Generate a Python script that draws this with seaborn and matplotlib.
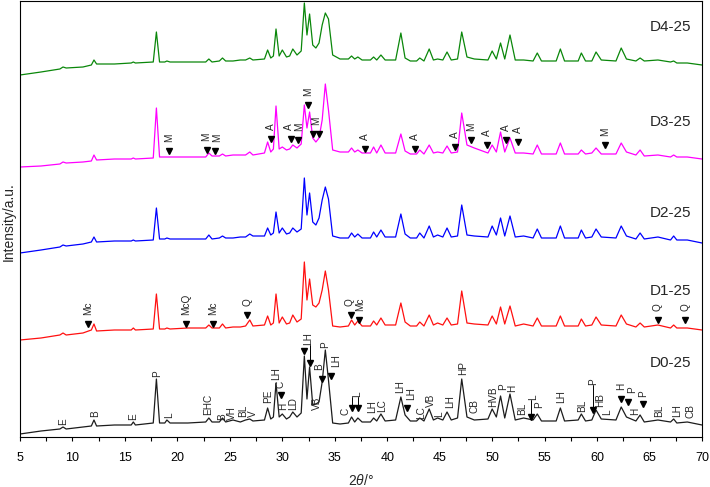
import numpy as np
import pandas as pd
import matplotlib
matplotlib.use("Agg")
import matplotlib.pyplot as plt
from matplotlib.ticker import MultipleLocator
import seaborn as sns

# ---------------- data ----------------
two_theta = [
    5.0, 7.0, 8.8, 9.1, 9.4, 11.0, 11.8, 12.05, 12.3, 14.0,
    15.6, 15.8, 16.0, 17.7, 18.0, 18.3, 18.8, 19.0, 19.3, 21.0,
    22.7, 23.0, 23.3, 24.0, 24.3, 24.6, 25.3, 26.0, 26.5, 26.9,
    27.2, 28.3, 28.6, 28.9, 29.15, 29.4, 29.7, 30.0, 30.4, 30.7,
    31.0, 31.4, 31.8, 32.1, 32.35, 32.6, 32.9, 33.2, 33.5, 33.8,
    34.1, 34.4, 34.8, 35.5, 36.3, 36.6, 36.9, 37.2, 37.6, 38.4,
    38.7, 39.0, 39.4, 39.8, 40.8, 41.3, 41.7, 42.2, 42.8, 43.1,
    43.5, 44.0, 44.4, 44.8, 45.3, 45.7, 46.1, 46.7, 47.1, 47.6,
    48.3, 49.6, 50.0, 50.4, 50.8, 51.2, 51.7, 52.2, 53.0, 53.9,
    54.3, 54.7, 56.1, 56.5, 56.9, 58.2, 58.5, 58.9, 59.5, 59.9,
    60.4, 61.8, 62.3, 62.8, 63.7, 64.1, 64.5, 65.8, 67.0, 67.3,
    67.6, 68.6, 70.0,
]

d0_25 = [
    3, 6, 8, 10, 8, 10, 11, 17, 11, 12,
    12, 15, 12, 14, 58, 14, 14, 17, 14, 14,
    15, 19, 15, 15, 19, 15, 17, 15, 17, 18,
    16, 17, 29, 18, 20, 54, 20, 23, 18, 20,
    25, 20, 24, 81, 38, 70, 32, 33, 35, 55,
    87, 57, 14, 13, 14, 20, 15, 19, 15, 15,
    19, 16, 23, 16, 17, 40, 22, 16, 16, 19,
    16, 28, 17, 19, 17, 25, 17, 19, 58, 20,
    17, 18, 28, 20, 41, 19, 43, 17, 19, 17,
    23, 16, 16, 29, 16, 17, 23, 16, 17, 27,
    18, 17, 30, 20, 16, 22, 15, 17, 15, 18,
    14, 15, 12,
]

d1_25 = [
    97, 99, 102, 104, 102, 104, 107, 113, 106, 107,
    107, 109, 107, 108, 143, 108, 108, 109, 108, 109,
    109, 112, 109, 109, 113, 109, 110, 110, 111, 117,
    111, 112, 121, 112, 114, 143, 114, 120, 113, 114,
    122, 115, 118, 175, 137, 158, 132, 130, 134, 147,
    166, 147, 111, 110, 111, 117, 112, 116, 111, 111,
    116, 112, 119, 112, 112, 134, 115, 111, 111, 115,
    111, 122, 112, 114, 112, 119, 112, 113, 146, 114,
    113, 112, 121, 113, 130, 113, 131, 111, 113, 111,
    119, 111, 111, 121, 111, 111, 118, 111, 112, 120,
    112, 111, 122, 113, 110, 114, 110, 112, 109, 112,
    109, 109, 107,
]

d2_25 = [
    184, 187, 190, 192, 191, 193, 195, 200, 195, 196,
    196, 197, 196, 197, 229, 198, 198, 199, 198, 198,
    198, 202, 198, 199, 201, 199, 199, 200, 200, 203,
    201, 201, 209, 202, 204, 225, 204, 209, 203, 204,
    209, 205, 208, 259, 222, 244, 215, 212, 219, 237,
    250, 238, 201, 199, 199, 204, 200, 203, 199, 199,
    205, 200, 207, 200, 200, 223, 203, 199, 199, 204,
    199, 211, 200, 202, 200, 209, 200, 201, 232, 202,
    201, 200, 211, 202, 219, 201, 221, 200, 201, 199,
    208, 199, 199, 211, 199, 199, 207, 199, 200, 208,
    200, 199, 211, 201, 198, 204, 198, 200, 197, 201,
    197, 197, 194,
]

d3_25 = [
    270, 271, 273, 275, 274, 275, 276, 282, 277, 278,
    278, 279, 278, 279, 329, 280, 280, 280, 280, 280,
    280, 284, 281, 281, 283, 281, 282, 282, 282, 285,
    282, 284, 295, 285, 288, 331, 288, 290, 287, 288,
    292, 289, 293, 332, 309, 325, 299, 295, 299, 317,
    353, 327, 287, 285, 285, 289, 285, 287, 284, 284,
    290, 284, 292, 284, 284, 303, 286, 283, 283, 287,
    283, 292, 284, 285, 284, 291, 284, 285, 324, 292,
    289, 284, 292, 285, 305, 285, 299, 284, 284, 283,
    292, 283, 283, 294, 283, 283, 287, 283, 284, 289,
    283, 283, 294, 285, 282, 287, 281, 282, 280, 282,
    280, 280, 278,
]

d4_25 = [
    362, 365, 368, 370, 369, 370, 372, 377, 373, 373,
    374, 375, 374, 375, 405, 375, 375, 376, 375, 375,
    375, 378, 375, 376, 379, 376, 376, 377, 377, 379,
    377, 378, 387, 379, 381, 408, 381, 387, 380, 381,
    388, 382, 386, 434, 402, 423, 392, 389, 394, 412,
    424, 418, 382, 378, 378, 381, 378, 380, 377, 377,
    380, 377, 382, 377, 377, 404, 379, 376, 376, 379,
    376, 388, 377, 378, 377, 385, 377, 378, 405, 380,
    378, 377, 386, 378, 394, 378, 402, 377, 377, 376,
    384, 376, 376, 388, 376, 376, 384, 376, 376, 385,
    377, 376, 389, 378, 376, 379, 376, 377, 375, 376,
    374, 374, 372,
]

samples = ["D0-25", "D1-25", "D2-25", "D3-25", "D4-25"]
sample_label_x = 67.0
sample_label_y = [74, 146, 224, 315, 410]

# D0-25 phase labels without arrows: (text, 2theta, bottom of text)
d0_labels = [
    ("E", 9.1, 12), ("B", 12.2, 20), ("E", 15.8, 17), ("P", 18.05, 60),
    ("L", 19.2, 19), ("EHC", 22.9, 22), ("B", 24.3, 17), ("VH", 25.2, 17),
    ("BL", 26.3, 20), ("V", 27.2, 20), ("PE", 28.65, 34), ("LH", 29.45, 57),
    ("H", 30.1, 27), ("LD", 31.0, 27), ("VB", 33.3, 27), ("P", 34.1, 89),
    ("C", 36.05, 22), ("LH", 38.6, 24), ("LC", 39.5, 25), ("LH", 41.2, 44),
    ("LC", 43.2, 18), ("VB", 44.2, 30), ("L", 44.9, 20), ("LH", 46.0, 29),
    ("HP", 47.2, 62), ("CB", 48.3, 24), ("HVB", 50.05, 30), ("P", 51.0, 47),
    ("H", 51.9, 45), ("BL", 52.9, 22), ("P", 54.5, 29), ("LH", 56.6, 34),
    ("BL", 58.6, 25), ("HB", 60.25, 30), ("L", 61.0, 22), ("H", 63.65, 22),
    ("BL", 65.95, 20), ("LH", 67.6, 20), ("CB", 68.9, 19),
]

# labels with arrows: (text, x of text, bottom of text, [(x tip, y tip, stem)])
d0_arrows = [
    ("C", 29.85, 49, [(29.85, 39, False)]),
    ("LH", 32.45, 92, [(32.1, 83, False), (32.6, 71, True)]),
    ("B", 33.5, 67, [(33.75, 55, False)]),
    ("LH", 35.1, 70, [(34.6, 58, False)]),
    ("L", 37.15, 40, [(36.65, 26, True), (37.2, 26, True)]),
    ("LH", 42.25, 37, [(41.9, 26, False)]),
    ("L", 53.9, 37, [(53.7, 17, True)]),
    ("P", 59.6, 52, [(59.6, 24, True)]),
    ("H", 62.3, 47, [(62.3, 35, False)]),
    ("P", 63.3, 44, [(62.95, 32, False)]),
    ("P", 64.4, 40, [(64.35, 30, False)]),
]

d1_arrows = [
    ("Mc", 11.5, 122, [(11.5, 110, False)]),
    ("McQ", 20.8, 122, [(20.8, 110, False)]),
    ("Mc", 23.4, 122, [(23.4, 110, False)]),
    ("Q", 26.65, 131, [(26.65, 119, False)]),
    ("Q", 36.45, 131, [(36.55, 119, False)]),
    ("Mc", 37.45, 126, [(37.3, 114, False)]),
    ("Q", 65.8, 126, [(65.8, 114, False)]),
    ("Q", 68.4, 126, [(68.4, 114, False)]),
]

d3_arrows = [
    ("M", 19.2, 295, [(19.2, 283, False)]),
    ("M", 22.7, 296, [(22.8, 284, False)]),
    ("M", 23.75, 295, [(23.6, 283, False)]),
    ("A", 28.95, 307, [(28.95, 295, False)]),
    ("A", 30.65, 307, [(30.8, 295, False)]),
    ("M", 31.6, 306, [(31.5, 294, False)]),
    ("M", 32.45, 341, [(32.45, 329, False)]),
    ("M", 33.25, 312, [(32.95, 300, False), (33.5, 300, False)]),
    ("A", 37.9, 297, [(37.9, 285, False)]),
    ("A", 42.6, 297, [(42.6, 285, False)]),
    ("A", 46.5, 299, [(46.5, 287, False)]),
    ("M", 48.0, 306, [(48.0, 294, False)]),
    ("A", 49.5, 301, [(49.5, 289, False)]),
    ("A", 51.3, 306, [(51.3, 294, False)]),
    ("A", 52.5, 304, [(52.5, 292, False)]),
    ("M", 60.8, 301, [(60.8, 289, False)]),
]

colors = {"D0-25": "#1c1c1c", "D1-25": "#ff1010", "D2-25": "#0000ff",
          "D3-25": "#ff00ff", "D4-25": "#0a870a"}

# ---------------- plot ----------------
sns.set_style("ticks")
plt.rcParams["font.family"] = ["Liberation Sans", "DejaVu Sans"]
plt.rcParams["mathtext.fontset"] = "custom"
plt.rcParams["mathtext.it"] = "Liberation Sans:italic"
plt.rcParams["mathtext.rm"] = "Liberation Sans"

series = [d0_25, d1_25, d2_25, d3_25, d4_25]
df = pd.concat(
    [pd.DataFrame({"two_theta": two_theta, "intensity": s, "sample": name})
     for name, s in zip(samples, series)],
    ignore_index=True,
)

fig = plt.figure(figsize=(7.1, 4.87), dpi=100)
ax = fig.add_axes([20 / 710, 50 / 487, 682 / 710, 436 / 487])

sns.lineplot(data=df, x="two_theta", y="intensity", hue="sample",
             palette=colors, legend=False, estimator=None, sort=False,
             linewidth=0.9, ax=ax)

ax.set_xlim(5, 70)
ax.set_ylim(0, 436)
ax.xaxis.set_major_locator(MultipleLocator(5))
ax.xaxis.set_minor_locator(MultipleLocator(2.5))
ax.set_yticks([])
ax.tick_params(axis="x", which="both", direction="out", length=3,
               width=0.8, labelsize=9, pad=7.5, colors="black")
for sp in ax.spines.values():
    sp.set_visible(True)
    sp.set_color("black")
    sp.set_linewidth(0.8)

ax.set_xlabel(r"2$\theta$/°", fontsize=10, labelpad=7)
ax.set_ylabel("")
fig.text(9 / 710, 1 - 222 / 487, "Intensity/a.u.", rotation=90,
         ha="center", va="center", fontsize=10)

for name, y in zip(samples, sample_label_y):
    ax.text(sample_label_x, y, name, ha="center", va="center", fontsize=11)

ann_fs = 7.2
for txt, x, yb in d0_labels:
    ax.text(x, yb, txt, rotation=90, ha="center", va="bottom", fontsize=ann_fs)

for group in (d0_arrows, d1_arrows, d3_arrows):
    for txt, x, yb, tips in group:
        ax.text(x, yb, txt, rotation=90, ha="center", va="bottom",
                fontsize=ann_fs)
        for xt, yt, stem in tips:
            ax.plot([xt], [yt + 3.2], marker="v", markersize=4.8,
                    color="black", linestyle="none")
            if stem:
                ax.plot([xt, xt], [yt + 6, yb], color="black", linewidth=0.7)

fig.savefig("out.png", dpi=100)
